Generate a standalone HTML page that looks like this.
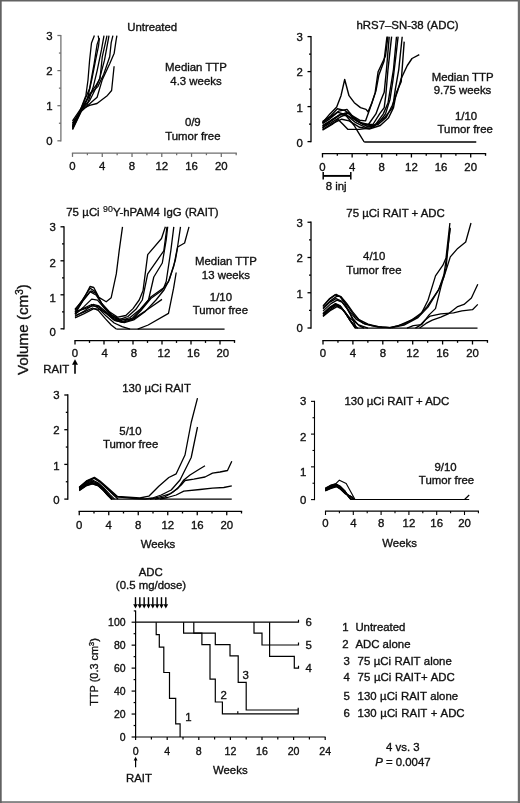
<!DOCTYPE html>
<html><head><meta charset="utf-8"><title>Figure</title>
<style>
html,body{margin:0;padding:0;background:#fff;}
svg{display:block;}
text{font-family:"Liberation Sans",sans-serif;fill:#111;stroke:#111;stroke-width:0.35px;}
</style></head><body>
<svg width="520" height="803" viewBox="0 0 520 803">
<rect x="0" y="0" width="520" height="803" fill="#fff"/>
<rect x="0" y="0" width="520" height="1.5" fill="#626262"/>
<rect x="0" y="801.1" width="520" height="1.9" fill="#868686"/>
<rect x="0" y="0" width="1.7" height="803" fill="#626262"/>
<rect x="517.8" y="0" width="2.2" height="803" fill="#6c6c6c"/>
<line x1="60.90" y1="34.88" x2="60.90" y2="141.43" stroke="#6e6e6e" stroke-width="1.25"/>
<line x1="57.40" y1="140.80" x2="60.90" y2="140.80" stroke="#6e6e6e" stroke-width="1.25"/>
<text x="52.70" y="144.80" font-size="11.4" text-anchor="end" >0</text>
<line x1="58.90" y1="123.25" x2="60.90" y2="123.25" stroke="#6e6e6e" stroke-width="1.25"/>
<line x1="57.40" y1="105.70" x2="60.90" y2="105.70" stroke="#6e6e6e" stroke-width="1.25"/>
<text x="52.70" y="110.30" font-size="11.4" text-anchor="end" >1</text>
<line x1="58.90" y1="88.15" x2="60.90" y2="88.15" stroke="#6e6e6e" stroke-width="1.25"/>
<line x1="57.40" y1="70.60" x2="60.90" y2="70.60" stroke="#6e6e6e" stroke-width="1.25"/>
<text x="52.70" y="74.90" font-size="11.4" text-anchor="end" >2</text>
<line x1="58.90" y1="53.05" x2="60.90" y2="53.05" stroke="#6e6e6e" stroke-width="1.25"/>
<line x1="57.40" y1="35.50" x2="60.90" y2="35.50" stroke="#6e6e6e" stroke-width="1.25"/>
<text x="52.70" y="39.60" font-size="11.4" text-anchor="end" >3</text>
<line x1="71.88" y1="153.00" x2="236.81" y2="153.00" stroke="#6e6e6e" stroke-width="1.25"/>
<line x1="72.50" y1="153.00" x2="72.50" y2="156.90" stroke="#6e6e6e" stroke-width="1.25"/>
<text x="72.50" y="169.60" font-size="11.4" text-anchor="middle" >0</text>
<line x1="87.38" y1="153.00" x2="87.38" y2="155.20" stroke="#6e6e6e" stroke-width="1.25"/>
<line x1="102.26" y1="153.00" x2="102.26" y2="156.90" stroke="#6e6e6e" stroke-width="1.25"/>
<text x="102.26" y="169.60" font-size="11.4" text-anchor="middle" >4</text>
<line x1="117.14" y1="153.00" x2="117.14" y2="155.20" stroke="#6e6e6e" stroke-width="1.25"/>
<line x1="132.02" y1="153.00" x2="132.02" y2="156.90" stroke="#6e6e6e" stroke-width="1.25"/>
<text x="132.02" y="169.60" font-size="11.4" text-anchor="middle" >8</text>
<line x1="146.90" y1="153.00" x2="146.90" y2="155.20" stroke="#6e6e6e" stroke-width="1.25"/>
<line x1="161.78" y1="153.00" x2="161.78" y2="156.90" stroke="#6e6e6e" stroke-width="1.25"/>
<text x="161.78" y="169.60" font-size="11.4" text-anchor="middle" >12</text>
<line x1="176.66" y1="153.00" x2="176.66" y2="155.20" stroke="#6e6e6e" stroke-width="1.25"/>
<line x1="191.54" y1="153.00" x2="191.54" y2="156.90" stroke="#6e6e6e" stroke-width="1.25"/>
<text x="191.54" y="169.60" font-size="11.4" text-anchor="middle" >16</text>
<line x1="206.42" y1="153.00" x2="206.42" y2="155.20" stroke="#6e6e6e" stroke-width="1.25"/>
<line x1="221.30" y1="153.00" x2="221.30" y2="156.90" stroke="#6e6e6e" stroke-width="1.25"/>
<text x="221.30" y="169.60" font-size="11.4" text-anchor="middle" >20</text>
<line x1="236.18" y1="153.00" x2="236.18" y2="155.20" stroke="#6e6e6e" stroke-width="1.25"/>
<polyline points="72.5,125.4 79.9,111.3 85.9,95.4 88.0,80.0 89.6,60.2 91.5,43.0 94.4,35.6" fill="none" stroke="#000" stroke-width="1.3" stroke-linejoin="round" stroke-linecap="butt"/>
<polyline points="72.5,122.9 79.2,113.0 83.7,102.5 89.6,88.4 94.1,63.8 97.1,44.4 98.9,39.1 98.1,35.6" fill="none" stroke="#000" stroke-width="1.3" stroke-linejoin="round" stroke-linecap="butt"/>
<polyline points="72.5,120.8 81.4,107.8 87.4,99.0 91.8,79.6 95.6,60.2 98.5,46.2 99.4,38.1" fill="none" stroke="#000" stroke-width="1.3" stroke-linejoin="round" stroke-linecap="butt"/>
<polyline points="72.5,127.1 81.4,109.5 87.4,104.2 93.3,86.6 97.1,70.8 101.5,49.7 104.0,35.6" fill="none" stroke="#000" stroke-width="1.3" stroke-linejoin="round" stroke-linecap="butt"/>
<polyline points="72.5,128.9 81.4,110.2 88.9,95.4 96.3,84.9 100.0,78.5 102.3,56.7 107.0,35.6" fill="none" stroke="#000" stroke-width="1.3" stroke-linejoin="round" stroke-linecap="butt"/>
<polyline points="72.5,126.4 82.2,107.8 89.6,100.7 94.8,90.2 99.3,79.6 104.5,60.2 109.0,35.6" fill="none" stroke="#000" stroke-width="1.3" stroke-linejoin="round" stroke-linecap="butt"/>
<polyline points="72.5,123.6 82.2,109.5 90.4,93.7 97.8,86.6 103.7,74.3 109.7,56.7 111.2,42.6 112.9,35.6" fill="none" stroke="#000" stroke-width="1.3" stroke-linejoin="round" stroke-linecap="butt"/>
<polyline points="72.5,129.6 81.4,111.3 91.1,102.5 97.1,97.2 102.3,79.6 109.7,63.8 114.2,53.2 116.0,40.9 116.9,35.6" fill="none" stroke="#000" stroke-width="1.3" stroke-linejoin="round" stroke-linecap="butt"/>
<polyline points="72.5,127.8 81.1,109.5 89.6,105.3 97.0,103.5 107.5,95.4 111.6,90.5 114.1,66.2" fill="none" stroke="#000" stroke-width="1.3" stroke-linejoin="round" stroke-linecap="butt"/>
<text x="152.20" y="30.80" font-size="11.4" text-anchor="middle" >Untreated</text>
<text x="196.00" y="70.80" font-size="11.4" text-anchor="middle" >Median TTP</text>
<text x="196.00" y="84.50" font-size="11.4" text-anchor="middle" >4.3 weeks</text>
<text x="192.80" y="125.80" font-size="11.4" text-anchor="middle" >0/9</text>
<text x="192.90" y="139.50" font-size="11.4" text-anchor="middle" >Tumor free</text>
<line x1="311.00" y1="35.95" x2="311.00" y2="142.25" stroke="#000" stroke-width="1.3"/>
<line x1="307.50" y1="141.60" x2="311.00" y2="141.60" stroke="#000" stroke-width="1.3"/>
<text x="302.80" y="146.60" font-size="11.4" text-anchor="end" >0</text>
<line x1="309.00" y1="124.10" x2="311.00" y2="124.10" stroke="#000" stroke-width="1.3"/>
<line x1="307.50" y1="106.60" x2="311.00" y2="106.60" stroke="#000" stroke-width="1.3"/>
<text x="302.80" y="111.90" font-size="11.4" text-anchor="end" >1</text>
<line x1="309.00" y1="89.10" x2="311.00" y2="89.10" stroke="#000" stroke-width="1.3"/>
<line x1="307.50" y1="71.60" x2="311.00" y2="71.60" stroke="#000" stroke-width="1.3"/>
<text x="302.80" y="76.30" font-size="11.4" text-anchor="end" >2</text>
<line x1="309.00" y1="54.10" x2="311.00" y2="54.10" stroke="#000" stroke-width="1.3"/>
<line x1="307.50" y1="36.60" x2="311.00" y2="36.60" stroke="#000" stroke-width="1.3"/>
<text x="302.80" y="40.70" font-size="11.4" text-anchor="end" >3</text>
<line x1="321.85" y1="153.60" x2="486.17" y2="153.60" stroke="#000" stroke-width="1.3"/>
<line x1="322.50" y1="153.60" x2="322.50" y2="157.50" stroke="#000" stroke-width="1.3"/>
<text x="322.50" y="170.50" font-size="11.4" text-anchor="middle" >0</text>
<line x1="337.32" y1="153.60" x2="337.32" y2="155.80" stroke="#000" stroke-width="1.3"/>
<line x1="352.14" y1="153.60" x2="352.14" y2="157.50" stroke="#000" stroke-width="1.3"/>
<text x="352.14" y="170.50" font-size="11.4" text-anchor="middle" >4</text>
<line x1="366.96" y1="153.60" x2="366.96" y2="155.80" stroke="#000" stroke-width="1.3"/>
<line x1="381.78" y1="153.60" x2="381.78" y2="157.50" stroke="#000" stroke-width="1.3"/>
<text x="381.78" y="170.50" font-size="11.4" text-anchor="middle" >8</text>
<line x1="396.60" y1="153.60" x2="396.60" y2="155.80" stroke="#000" stroke-width="1.3"/>
<line x1="411.42" y1="153.60" x2="411.42" y2="157.50" stroke="#000" stroke-width="1.3"/>
<text x="411.42" y="170.50" font-size="11.4" text-anchor="middle" >12</text>
<line x1="426.24" y1="153.60" x2="426.24" y2="155.80" stroke="#000" stroke-width="1.3"/>
<line x1="441.06" y1="153.60" x2="441.06" y2="157.50" stroke="#000" stroke-width="1.3"/>
<text x="441.06" y="170.50" font-size="11.4" text-anchor="middle" >16</text>
<line x1="455.88" y1="153.60" x2="455.88" y2="155.80" stroke="#000" stroke-width="1.3"/>
<line x1="470.70" y1="153.60" x2="470.70" y2="157.50" stroke="#000" stroke-width="1.3"/>
<text x="470.70" y="170.50" font-size="11.4" text-anchor="middle" >20</text>
<line x1="485.52" y1="153.60" x2="485.52" y2="155.80" stroke="#000" stroke-width="1.3"/>
<polyline points="322.5,121.6 329.9,116.7 337.3,108.7 344.7,110.4 352.1,115.7 359.6,120.2 365.5,120.9 369.9,108.7 375.1,92.9 378.1,71.8 385.5,56.0 387.9,36.7" fill="none" stroke="#000" stroke-width="1.4000000000000001" stroke-linejoin="round" stroke-linecap="butt"/>
<polyline points="322.5,123.7 329.9,118.8 338.8,111.1 347.0,109.4 353.6,117.4 361.0,122.7 368.4,124.5 375.9,113.9 381.0,99.9 384.2,92.2 386.5,69.3 389.2,36.7" fill="none" stroke="#000" stroke-width="1.4000000000000001" stroke-linejoin="round" stroke-linecap="butt"/>
<polyline points="322.5,125.5 331.4,120.2 341.0,113.9 348.4,113.2 355.8,120.2 363.3,124.5 372.9,124.5 379.6,113.9 384.2,107.6 385.8,95.3 388.0,69.3 391.6,36.7" fill="none" stroke="#000" stroke-width="1.4000000000000001" stroke-linejoin="round" stroke-linecap="butt"/>
<polyline points="322.5,127.3 331.4,122.7 341.0,116.7 346.2,114.6 355.8,122.7 365.5,127.3 374.4,126.2 383.3,113.9 388.0,103.0 393.5,69.3 396.5,36.7" fill="none" stroke="#000" stroke-width="1.4000000000000001" stroke-linejoin="round" stroke-linecap="butt"/>
<polyline points="322.5,122.7 329.9,117.4 337.3,112.2 343.2,113.9 352.1,118.1 363.3,124.5 374.4,125.2 384.7,117.4 392.7,107.6 395.3,89.3 398.8,69.3 402.2,36.7" fill="none" stroke="#000" stroke-width="1.4000000000000001" stroke-linejoin="round" stroke-linecap="butt"/>
<polyline points="322.5,129.4 332.1,123.7 341.8,119.2 349.2,120.9 359.6,127.3 369.2,129.0 380.3,125.5 388.4,118.1 393.5,107.6 396.5,92.2 401.2,81.6 404.2,41.6" fill="none" stroke="#000" stroke-width="1.4000000000000001" stroke-linejoin="round" stroke-linecap="butt"/>
<polyline points="322.5,126.2 331.4,120.9 340.3,114.6 347.7,112.5 356.6,120.9 367.0,126.2 378.1,124.5 386.2,117.4 392.2,105.5 397.3,92.2 401.2,78.5 407.3,65.5 412.0,58.5 419.3,54.6" fill="none" stroke="#000" stroke-width="1.4000000000000001" stroke-linejoin="round" stroke-linecap="butt"/>
<polyline points="322.5,122.7 329.9,113.9 336.7,106.9 341.0,95.7 344.7,79.5 349.0,95.7 354.3,102.7 360.5,107.6 366.0,109.4 368.0,111.8 371.8,103.4 375.9,91.1 378.8,75.3 384.0,61.3 385.9,45.5 387.0,36.7" fill="none" stroke="#000" stroke-width="1.4000000000000001" stroke-linejoin="round" stroke-linecap="butt"/>
<polyline points="322.5,128.0 331.4,120.2 340.3,114.6 346.2,115.7 354.2,125.5 358.6,132.9 364.2,142.0" fill="none" stroke="#000" stroke-width="1.4000000000000001" stroke-linejoin="round" stroke-linecap="butt"/>
<polyline points="322.5,130.1 332.1,124.5 338.1,119.5 343.2,124.5 348.0,129.4 359.3,129.4 370.5,128.0 378.8,122.7 385.5,113.9 389.9,99.9 392.9,80.6 395.9,56.0 398.1,36.7" fill="none" stroke="#000" stroke-width="1.4000000000000001" stroke-linejoin="round" stroke-linecap="butt"/>
<line x1="364.22" y1="142.00" x2="476.26" y2="142.00" stroke="#000" stroke-width="1.4000000000000001"/>
<text x="407.50" y="29.30" font-size="11.4" text-anchor="middle" >hRS7–SN-38 (ADC)</text>
<text x="462.60" y="80.80" font-size="11.4" text-anchor="middle" >Median TTP</text>
<text x="462.50" y="94.30" font-size="11.4" text-anchor="middle" >9.75 weeks</text>
<text x="466.00" y="119.50" font-size="11.4" text-anchor="middle" >1/10</text>
<text x="465.20" y="133.30" font-size="11.4" text-anchor="middle" >Tumor free</text>
<line x1="323.20" y1="175.90" x2="350.80" y2="175.90" stroke="#000" stroke-width="1.9"/>
<line x1="323.20" y1="171.90" x2="323.20" y2="179.60" stroke="#000" stroke-width="1.5"/>
<line x1="350.80" y1="171.90" x2="350.80" y2="179.60" stroke="#000" stroke-width="1.5"/>
<text x="336.20" y="189.80" font-size="11.4" text-anchor="middle" >8 inj</text>
<line x1="64.00" y1="226.15" x2="64.00" y2="329.45" stroke="#000" stroke-width="1.3"/>
<line x1="60.50" y1="328.80" x2="64.00" y2="328.80" stroke="#000" stroke-width="1.3"/>
<text x="55.80" y="336.10" font-size="11.4" text-anchor="end" >0</text>
<line x1="62.00" y1="311.80" x2="64.00" y2="311.80" stroke="#000" stroke-width="1.3"/>
<line x1="60.50" y1="294.80" x2="64.00" y2="294.80" stroke="#000" stroke-width="1.3"/>
<text x="55.80" y="302.20" font-size="11.4" text-anchor="end" >1</text>
<line x1="62.00" y1="277.80" x2="64.00" y2="277.80" stroke="#000" stroke-width="1.3"/>
<line x1="60.50" y1="260.80" x2="64.00" y2="260.80" stroke="#000" stroke-width="1.3"/>
<text x="55.80" y="266.50" font-size="11.4" text-anchor="end" >2</text>
<line x1="62.00" y1="243.80" x2="64.00" y2="243.80" stroke="#000" stroke-width="1.3"/>
<line x1="60.50" y1="226.80" x2="64.00" y2="226.80" stroke="#000" stroke-width="1.3"/>
<text x="55.80" y="230.70" font-size="11.4" text-anchor="end" >3</text>
<line x1="74.35" y1="340.70" x2="235.15" y2="340.70" stroke="#000" stroke-width="1.3"/>
<line x1="75.00" y1="340.70" x2="75.00" y2="344.60" stroke="#000" stroke-width="1.3"/>
<text x="74.90" y="356.80" font-size="11.4" text-anchor="middle" >0</text>
<line x1="89.50" y1="340.70" x2="89.50" y2="342.90" stroke="#000" stroke-width="1.3"/>
<line x1="104.00" y1="340.70" x2="104.00" y2="344.60" stroke="#000" stroke-width="1.3"/>
<text x="104.70" y="356.80" font-size="11.4" text-anchor="middle" >4</text>
<line x1="118.50" y1="340.70" x2="118.50" y2="342.90" stroke="#000" stroke-width="1.3"/>
<line x1="133.00" y1="340.70" x2="133.00" y2="344.60" stroke="#000" stroke-width="1.3"/>
<text x="134.00" y="356.80" font-size="11.4" text-anchor="middle" >8</text>
<line x1="147.50" y1="340.70" x2="147.50" y2="342.90" stroke="#000" stroke-width="1.3"/>
<line x1="162.00" y1="340.70" x2="162.00" y2="344.60" stroke="#000" stroke-width="1.3"/>
<text x="163.90" y="356.80" font-size="11.4" text-anchor="middle" >12</text>
<line x1="176.50" y1="340.70" x2="176.50" y2="342.90" stroke="#000" stroke-width="1.3"/>
<line x1="191.00" y1="340.70" x2="191.00" y2="344.60" stroke="#000" stroke-width="1.3"/>
<text x="193.40" y="356.80" font-size="11.4" text-anchor="middle" >16</text>
<line x1="205.50" y1="340.70" x2="205.50" y2="342.90" stroke="#000" stroke-width="1.3"/>
<line x1="220.00" y1="340.70" x2="220.00" y2="344.60" stroke="#000" stroke-width="1.3"/>
<text x="222.80" y="356.80" font-size="11.4" text-anchor="middle" >20</text>
<line x1="234.50" y1="340.70" x2="234.50" y2="342.90" stroke="#000" stroke-width="1.3"/>
<polyline points="75.0,313.8 82.2,301.8 90.0,286.5 93.8,287.5 98.9,297.4 106.2,301.8 111.2,297.7 116.3,273.9 119.2,250.7 122.5,226.8" fill="none" stroke="#000" stroke-width="1.3" stroke-linejoin="round" stroke-linecap="butt"/>
<polyline points="75.0,315.5 83.7,312.1 92.4,308.0 98.2,310.3 105.5,318.9 111.2,325.0 116.3,329.1" fill="none" stroke="#000" stroke-width="1.3" stroke-linejoin="round" stroke-linecap="butt"/>
<polyline points="75.0,310.3 82.2,300.1 90.2,288.2 95.3,291.6 101.8,303.5 109.8,312.1 117.8,317.2 125.8,315.5 133.0,308.6 139.2,300.0 143.0,290.8 147.7,254.6 161.5,238.5 165.4,226.8" fill="none" stroke="#000" stroke-width="1.3" stroke-linejoin="round" stroke-linecap="butt"/>
<polyline points="75.0,312.1 82.2,301.8 91.0,290.9 96.0,293.3 102.5,305.2 111.2,314.8 119.2,319.6 127.9,316.5 135.9,309.3 142.3,300.0 147.7,273.8 163.8,250.8 167.0,226.8" fill="none" stroke="#000" stroke-width="1.3" stroke-linejoin="round" stroke-linecap="butt"/>
<polyline points="75.0,314.4 83.7,306.9 91.7,299.1 97.5,300.1 104.7,308.6 112.7,317.2 120.7,320.6 130.1,317.5 140.2,309.3 148.5,300.0 153.8,277.0 162.3,263.0 166.2,240.0 167.7,226.8" fill="none" stroke="#000" stroke-width="1.3" stroke-linejoin="round" stroke-linecap="butt"/>
<polyline points="75.0,316.5 83.7,311.4 93.1,304.5 98.9,305.9 106.2,312.1 114.2,318.9 122.1,321.6 132.3,318.2 141.7,308.6 150.8,297.0 163.8,287.7 166.2,281.5 170.8,250.8 173.8,226.8" fill="none" stroke="#000" stroke-width="1.3" stroke-linejoin="round" stroke-linecap="butt"/>
<polyline points="75.0,311.4 83.0,309.3 92.4,305.9 98.2,306.6 105.5,312.7 113.4,319.6 122.1,322.3 132.3,319.6 141.7,309.7 150.8,298.5 161.5,290.8 168.5,281.5 173.8,266.0 177.7,246.0 180.5,226.8" fill="none" stroke="#000" stroke-width="1.3" stroke-linejoin="round" stroke-linecap="butt"/>
<polyline points="75.0,317.8 83.7,313.8 93.8,308.6 99.7,309.3 106.9,313.8 114.9,320.6 124.3,322.6 133.7,319.9 145.3,311.4 156.0,300.0 164.0,290.0 169.2,280.0 175.4,260.0 177.7,247.0 184.6,243.0 189.0,226.8" fill="none" stroke="#000" stroke-width="1.3" stroke-linejoin="round" stroke-linecap="butt"/>
<polyline points="75.0,313.4 83.0,308.6 91.7,304.5 98.2,308.0 106.2,316.1 114.2,323.0 122.1,326.7 130.1,329.1" fill="none" stroke="#000" stroke-width="1.3" stroke-linejoin="round" stroke-linecap="butt"/>
<polyline points="137.7,329.1 148.2,325.0 168.5,313.4 173.6,288.2 176.2,272.5" fill="none" stroke="#000" stroke-width="1.3" stroke-linejoin="round" stroke-linecap="butt"/>
<polyline points="75.0,309.3 83.0,300.1 90.0,291.6 96.0,295.0 103.3,305.9 111.2,314.8 119.2,318.9 127.2,319.6 133.5,318.9 148.2,309.0 162.0,299.4" fill="none" stroke="#000" stroke-width="1.3" stroke-linejoin="round" stroke-linecap="butt"/>
<line x1="116.33" y1="329.10" x2="224.57" y2="329.10" stroke="#000" stroke-width="1.3"/>
<text x="66.2" y="215.8" font-size="11.4" style="word-spacing:0.3px">75 µCi <tspan font-size="8.8" dy="-4.3" style="stroke-width:0.2px">90</tspan><tspan dy="4.3">Y-hPAM4 IgG (RAIT)</tspan></text>
<text x="225.90" y="265.00" font-size="11.4" text-anchor="middle" >Median TTP</text>
<text x="225.90" y="278.80" font-size="11.4" text-anchor="middle" >13 weeks</text>
<text x="220.90" y="300.50" font-size="11.4" text-anchor="middle" >1/10</text>
<text x="220.40" y="314.30" font-size="11.4" text-anchor="middle" >Tumor free</text>
<text x="43.20" y="372.60" font-size="11.4" text-anchor="start" >RAIT</text>
<line x1="75.00" y1="364.30" x2="75.00" y2="373.80" stroke="#000" stroke-width="1.6"/>
<polygon points="75.00,359.20 72.00,364.80 78.00,364.80" fill="#000"/>
<text transform="translate(28.4,375) rotate(-90)" font-size="15.2">Volume (cm<tspan font-size="10" dy="-5">3</tspan><tspan dy="5">)</tspan></text>
<line x1="311.00" y1="221.60" x2="311.00" y2="328.65" stroke="#000" stroke-width="1.3"/>
<line x1="307.50" y1="328.00" x2="311.00" y2="328.00" stroke="#000" stroke-width="1.3"/>
<text x="302.80" y="332.10" font-size="11.4" text-anchor="end" >0</text>
<line x1="309.00" y1="310.38" x2="311.00" y2="310.38" stroke="#000" stroke-width="1.3"/>
<line x1="307.50" y1="292.75" x2="311.00" y2="292.75" stroke="#000" stroke-width="1.3"/>
<text x="302.80" y="297.60" font-size="11.4" text-anchor="end" >1</text>
<line x1="309.00" y1="275.12" x2="311.00" y2="275.12" stroke="#000" stroke-width="1.3"/>
<line x1="307.50" y1="257.50" x2="311.00" y2="257.50" stroke="#000" stroke-width="1.3"/>
<text x="302.80" y="262.20" font-size="11.4" text-anchor="end" >2</text>
<line x1="309.00" y1="239.88" x2="311.00" y2="239.88" stroke="#000" stroke-width="1.3"/>
<line x1="307.50" y1="222.25" x2="311.00" y2="222.25" stroke="#000" stroke-width="1.3"/>
<text x="302.80" y="226.60" font-size="11.4" text-anchor="end" >3</text>
<line x1="322.35" y1="340.60" x2="488.10" y2="340.60" stroke="#000" stroke-width="1.3"/>
<line x1="323.00" y1="340.60" x2="323.00" y2="344.50" stroke="#000" stroke-width="1.3"/>
<text x="323.00" y="357.00" font-size="11.4" text-anchor="middle" >0</text>
<line x1="337.95" y1="340.60" x2="337.95" y2="342.80" stroke="#000" stroke-width="1.3"/>
<line x1="352.90" y1="340.60" x2="352.90" y2="344.50" stroke="#000" stroke-width="1.3"/>
<text x="352.90" y="357.00" font-size="11.4" text-anchor="middle" >4</text>
<line x1="367.85" y1="340.60" x2="367.85" y2="342.80" stroke="#000" stroke-width="1.3"/>
<line x1="382.80" y1="340.60" x2="382.80" y2="344.50" stroke="#000" stroke-width="1.3"/>
<text x="382.80" y="357.00" font-size="11.4" text-anchor="middle" >8</text>
<line x1="397.75" y1="340.60" x2="397.75" y2="342.80" stroke="#000" stroke-width="1.3"/>
<line x1="412.70" y1="340.60" x2="412.70" y2="344.50" stroke="#000" stroke-width="1.3"/>
<text x="412.70" y="357.00" font-size="11.4" text-anchor="middle" >12</text>
<line x1="427.65" y1="340.60" x2="427.65" y2="342.80" stroke="#000" stroke-width="1.3"/>
<line x1="442.60" y1="340.60" x2="442.60" y2="344.50" stroke="#000" stroke-width="1.3"/>
<text x="442.60" y="357.00" font-size="11.4" text-anchor="middle" >16</text>
<line x1="457.55" y1="340.60" x2="457.55" y2="342.80" stroke="#000" stroke-width="1.3"/>
<line x1="472.50" y1="340.60" x2="472.50" y2="344.50" stroke="#000" stroke-width="1.3"/>
<text x="472.50" y="357.00" font-size="11.4" text-anchor="middle" >20</text>
<line x1="487.45" y1="340.60" x2="487.45" y2="342.80" stroke="#000" stroke-width="1.3"/>
<polyline points="323.0,306.6 330.0,298.6 336.2,294.3 341.0,297.1 347.0,305.1 355.0,316.6 363.0,323.1 372.0,325.6 382.0,327.1 390.0,327.6 398.5,325.6 411.2,320.2 421.7,312.9 428.0,300.2 435.5,275.9 442.9,265.2 446.0,257.9 449.9,223.0" fill="none" stroke="#000" stroke-width="1.3" stroke-linejoin="round" stroke-linecap="butt"/>
<polyline points="323.0,308.1 330.0,301.1 337.0,296.1 340.8,296.4 346.5,303.1 352.5,311.6 359.0,319.6 368.0,324.1 378.0,326.6 390.0,327.6 402.7,324.6 417.5,317.1 427.0,306.6 438.7,289.6 443.9,274.8 447.1,253.6 450.3,228.2" fill="none" stroke="#000" stroke-width="1.3" stroke-linejoin="round" stroke-linecap="butt"/>
<polyline points="323.0,313.6 330.0,307.1 335.5,303.6 340.0,305.6 345.0,312.1 350.0,320.1 355.5,326.6 358.0,328.1" fill="none" stroke="#000" stroke-width="1.3" stroke-linejoin="round" stroke-linecap="butt"/>
<polyline points="407.0,328.1 413.3,325.6 421.7,324.6 429.1,314.9 435.5,308.6 440.8,287.4 446.0,268.4 450.0,227.6" fill="none" stroke="#000" stroke-width="1.3" stroke-linejoin="round" stroke-linecap="butt"/>
<polyline points="323.0,311.1 331.0,303.6 337.0,300.1 342.0,302.1 348.0,309.6 356.0,319.1 365.0,324.1 378.0,327.1 392.0,327.6 404.0,325.1 418.0,317.6 428.0,307.1 438.7,289.6 444.0,276.9 450.3,256.9 457.7,248.4 465.7,242.0 471.0,223.0" fill="none" stroke="#000" stroke-width="1.3" stroke-linejoin="round" stroke-linecap="butt"/>
<polyline points="323.0,314.6 330.0,308.1 335.8,304.6 340.5,306.6 345.5,313.1 350.5,321.1 355.5,328.1" fill="none" stroke="#000" stroke-width="1.3" stroke-linejoin="round" stroke-linecap="butt"/>
<polyline points="419.6,328.1 426.0,323.4 432.3,320.2 440.8,317.1 448.2,313.9 457.7,306.6 464.0,304.4 471.4,298.1 477.8,284.3" fill="none" stroke="#000" stroke-width="1.3" stroke-linejoin="round" stroke-linecap="butt"/>
<polyline points="323.0,316.1 330.0,309.6 336.0,305.6 341.0,307.6 346.0,314.1 351.0,321.6 356.0,328.1" fill="none" stroke="#000" stroke-width="1.3" stroke-linejoin="round" stroke-linecap="butt"/>
<polyline points="415.4,328.1 419.6,325.6 424.9,320.2 430.2,316.1 440.8,313.9 453.5,312.9 461.9,310.8 472.5,309.7 477.8,304.4" fill="none" stroke="#000" stroke-width="1.3" stroke-linejoin="round" stroke-linecap="butt"/>
<polyline points="323.0,305.9 329.0,299.1 335.0,294.9 340.0,296.6 345.0,303.6 350.0,313.6 354.0,322.6 356.5,328.1" fill="none" stroke="#000" stroke-width="1.3" stroke-linejoin="round" stroke-linecap="butt"/>
<polyline points="323.0,309.1 330.0,302.1 336.0,298.6 341.5,301.1 347.0,308.6 353.0,318.6 359.0,325.6 364.0,328.1" fill="none" stroke="#000" stroke-width="1.3" stroke-linejoin="round" stroke-linecap="butt"/>
<polyline points="323.0,314.1 330.0,307.6 335.6,304.1 340.3,306.1 345.3,312.6 350.3,320.6 355.2,328.1" fill="none" stroke="#000" stroke-width="1.3" stroke-linejoin="round" stroke-linecap="butt"/>
<polyline points="323.0,316.6 331.0,310.1 337.0,306.6 343.0,309.6 350.0,318.1 358.0,324.6 368.0,328.1" fill="none" stroke="#000" stroke-width="1.3" stroke-linejoin="round" stroke-linecap="butt"/>
<line x1="355.20" y1="328.05" x2="477.50" y2="328.05" stroke="#000" stroke-width="1.3"/>
<text x="395.60" y="217.00" font-size="11.4" text-anchor="middle" >75 µCi RAIT + ADC</text>
<text x="374.20" y="260.00" font-size="11.4" text-anchor="middle" >4/10</text>
<text x="373.90" y="273.80" font-size="11.4" text-anchor="middle" >Tumor free</text>
<line x1="67.80" y1="394.35" x2="67.80" y2="499.75" stroke="#000" stroke-width="1.3"/>
<line x1="64.30" y1="499.10" x2="67.80" y2="499.10" stroke="#000" stroke-width="1.3"/>
<text x="59.60" y="504.00" font-size="11.4" text-anchor="end" >0</text>
<line x1="65.80" y1="481.75" x2="67.80" y2="481.75" stroke="#000" stroke-width="1.3"/>
<line x1="64.30" y1="464.40" x2="67.80" y2="464.40" stroke="#000" stroke-width="1.3"/>
<text x="59.60" y="469.80" font-size="11.4" text-anchor="end" >1</text>
<line x1="65.80" y1="447.05" x2="67.80" y2="447.05" stroke="#000" stroke-width="1.3"/>
<line x1="64.30" y1="429.70" x2="67.80" y2="429.70" stroke="#000" stroke-width="1.3"/>
<text x="59.60" y="434.40" font-size="11.4" text-anchor="end" >2</text>
<line x1="65.80" y1="412.35" x2="67.80" y2="412.35" stroke="#000" stroke-width="1.3"/>
<line x1="64.30" y1="395.00" x2="67.80" y2="395.00" stroke="#000" stroke-width="1.3"/>
<text x="59.60" y="398.80" font-size="11.4" text-anchor="end" >3</text>
<line x1="78.60" y1="511.30" x2="242.15" y2="511.30" stroke="#000" stroke-width="1.3"/>
<line x1="79.25" y1="511.30" x2="79.25" y2="515.20" stroke="#000" stroke-width="1.3"/>
<text x="79.25" y="528.60" font-size="11.4" text-anchor="middle" >0</text>
<line x1="94.00" y1="511.30" x2="94.00" y2="513.50" stroke="#000" stroke-width="1.3"/>
<line x1="108.75" y1="511.30" x2="108.75" y2="515.20" stroke="#000" stroke-width="1.3"/>
<text x="108.75" y="528.60" font-size="11.4" text-anchor="middle" >4</text>
<line x1="123.50" y1="511.30" x2="123.50" y2="513.50" stroke="#000" stroke-width="1.3"/>
<line x1="138.25" y1="511.30" x2="138.25" y2="515.20" stroke="#000" stroke-width="1.3"/>
<text x="138.25" y="528.60" font-size="11.4" text-anchor="middle" >8</text>
<line x1="153.00" y1="511.30" x2="153.00" y2="513.50" stroke="#000" stroke-width="1.3"/>
<line x1="167.75" y1="511.30" x2="167.75" y2="515.20" stroke="#000" stroke-width="1.3"/>
<text x="167.75" y="528.60" font-size="11.4" text-anchor="middle" >12</text>
<line x1="182.50" y1="511.30" x2="182.50" y2="513.50" stroke="#000" stroke-width="1.3"/>
<line x1="197.25" y1="511.30" x2="197.25" y2="515.20" stroke="#000" stroke-width="1.3"/>
<text x="197.25" y="528.60" font-size="11.4" text-anchor="middle" >16</text>
<line x1="212.00" y1="511.30" x2="212.00" y2="513.50" stroke="#000" stroke-width="1.3"/>
<line x1="226.75" y1="511.30" x2="226.75" y2="515.20" stroke="#000" stroke-width="1.3"/>
<text x="226.75" y="528.60" font-size="11.4" text-anchor="middle" >20</text>
<line x1="241.50" y1="511.30" x2="241.50" y2="513.50" stroke="#000" stroke-width="1.3"/>
<polyline points="79.2,487.2 87.0,480.5 94.4,477.3 100.0,481.0 108.0,488.0 117.5,496.5 125.0,497.0 139.8,498.0 148.8,496.2 158.8,486.2 168.8,477.5 176.2,473.8 185.0,455.0 191.2,422.5 197.5,398.2" fill="none" stroke="#000" stroke-width="1.3" stroke-linejoin="round" stroke-linecap="butt"/>
<polyline points="79.2,488.0 87.0,481.5 94.0,478.3 100.0,482.0 108.0,489.0 116.5,496.8 125.0,497.6 135.0,498.5 145.0,499.0 152.5,498.0 161.2,495.0 171.2,490.0 180.0,480.0 187.5,465.0 191.2,457.5 197.5,427.0" fill="none" stroke="#000" stroke-width="1.3" stroke-linejoin="round" stroke-linecap="butt"/>
<polyline points="79.2,488.5 86.0,484.0 91.5,482.3 98.0,484.0 103.0,488.5 107.0,493.5 111.0,498.5 111.5,499.1" fill="none" stroke="#000" stroke-width="1.3" stroke-linejoin="round" stroke-linecap="butt"/>
<polyline points="150.0,499.1 157.5,497.5 170.0,493.8 177.5,488.8 183.8,480.0 190.0,475.0 198.8,469.5 205.0,465.8" fill="none" stroke="#000" stroke-width="1.3" stroke-linejoin="round" stroke-linecap="butt"/>
<polyline points="79.2,489.2 86.0,484.6 92.0,482.8 98.0,484.6 103.0,489.0 107.0,494.0 111.0,498.6 112.0,499.1" fill="none" stroke="#000" stroke-width="1.3" stroke-linejoin="round" stroke-linecap="butt"/>
<polyline points="155.0,499.1 165.0,496.8 172.5,492.5 181.2,485.0 185.0,480.5 193.8,479.2 205.0,477.0 212.5,473.2 220.0,472.0 227.5,470.5 231.8,461.2" fill="none" stroke="#000" stroke-width="1.3" stroke-linejoin="round" stroke-linecap="butt"/>
<polyline points="79.2,489.8 86.0,485.2 92.0,483.2 98.0,485.0 103.0,489.6 107.0,494.5 111.3,498.8 112.0,499.1" fill="none" stroke="#000" stroke-width="1.3" stroke-linejoin="round" stroke-linecap="butt"/>
<polyline points="160.0,499.1 167.5,497.5 176.2,495.0 183.8,491.2 200.0,489.5 212.5,488.2 223.8,487.5 231.8,485.8" fill="none" stroke="#000" stroke-width="1.3" stroke-linejoin="round" stroke-linecap="butt"/>
<polyline points="79.2,487.5 87.0,481.0 94.2,478.0 100.0,482.0 108.0,489.5 114.0,495.5 118.0,499.1" fill="none" stroke="#000" stroke-width="1.3" stroke-linejoin="round" stroke-linecap="butt"/>
<polyline points="79.2,488.2 86.0,482.6 92.5,480.0 98.0,482.8 104.0,488.2 110.0,494.6 114.5,499.1" fill="none" stroke="#000" stroke-width="1.3" stroke-linejoin="round" stroke-linecap="butt"/>
<polyline points="79.2,488.6 86.0,483.4 92.3,481.2 98.0,483.6 103.5,488.6 108.5,494.6 112.5,499.1" fill="none" stroke="#000" stroke-width="1.3" stroke-linejoin="round" stroke-linecap="butt"/>
<polyline points="79.2,490.3 86.0,485.6 92.0,483.6 98.0,485.6 103.5,490.5 108.0,495.5 111.8,499.1" fill="none" stroke="#000" stroke-width="1.3" stroke-linejoin="round" stroke-linecap="butt"/>
<polyline points="79.2,490.6 86.0,486.0 92.5,484.0 98.5,486.0 104.0,491.0 108.5,496.0 112.0,499.1" fill="none" stroke="#000" stroke-width="1.3" stroke-linejoin="round" stroke-linecap="butt"/>
<line x1="111.50" y1="499.10" x2="231.75" y2="499.10" stroke="#000" stroke-width="1.3"/>
<text x="156.60" y="391.70" font-size="11.4" text-anchor="middle" >130 µCi RAIT</text>
<text x="130.40" y="434.50" font-size="11.4" text-anchor="middle" >5/10</text>
<text x="130.60" y="448.10" font-size="11.4" text-anchor="middle" >Tumor free</text>
<text x="158.00" y="548.30" font-size="11.4" text-anchor="middle" >Weeks</text>
<line x1="314.50" y1="400.80" x2="314.50" y2="500.15" stroke="#000" stroke-width="1.1"/>
<line x1="311.00" y1="499.60" x2="314.50" y2="499.60" stroke="#000" stroke-width="1.1"/>
<text x="306.30" y="504.10" font-size="11.4" text-anchor="end" >0</text>
<line x1="312.50" y1="483.23" x2="314.50" y2="483.23" stroke="#000" stroke-width="1.1"/>
<line x1="311.00" y1="466.85" x2="314.50" y2="466.85" stroke="#000" stroke-width="1.1"/>
<text x="306.30" y="476.10" font-size="11.4" text-anchor="end" >1</text>
<line x1="312.50" y1="450.48" x2="314.50" y2="450.48" stroke="#000" stroke-width="1.1"/>
<line x1="311.00" y1="434.10" x2="314.50" y2="434.10" stroke="#000" stroke-width="1.1"/>
<text x="306.30" y="440.50" font-size="11.4" text-anchor="end" >2</text>
<line x1="312.50" y1="417.73" x2="314.50" y2="417.73" stroke="#000" stroke-width="1.1"/>
<line x1="311.00" y1="401.35" x2="314.50" y2="401.35" stroke="#000" stroke-width="1.1"/>
<text x="306.30" y="404.60" font-size="11.4" text-anchor="end" >3</text>
<line x1="324.95" y1="511.10" x2="478.95" y2="511.10" stroke="#000" stroke-width="1.1"/>
<line x1="325.50" y1="511.10" x2="325.50" y2="515.00" stroke="#000" stroke-width="1.1"/>
<text x="325.50" y="527.30" font-size="11.4" text-anchor="middle" >0</text>
<line x1="339.40" y1="511.10" x2="339.40" y2="513.30" stroke="#000" stroke-width="1.1"/>
<line x1="353.30" y1="511.10" x2="353.30" y2="515.00" stroke="#000" stroke-width="1.1"/>
<text x="353.30" y="527.30" font-size="11.4" text-anchor="middle" >4</text>
<line x1="367.20" y1="511.10" x2="367.20" y2="513.30" stroke="#000" stroke-width="1.1"/>
<line x1="381.10" y1="511.10" x2="381.10" y2="515.00" stroke="#000" stroke-width="1.1"/>
<text x="381.10" y="527.30" font-size="11.4" text-anchor="middle" >8</text>
<line x1="395.00" y1="511.10" x2="395.00" y2="513.30" stroke="#000" stroke-width="1.1"/>
<line x1="408.90" y1="511.10" x2="408.90" y2="515.00" stroke="#000" stroke-width="1.1"/>
<text x="408.90" y="527.30" font-size="11.4" text-anchor="middle" >12</text>
<line x1="422.80" y1="511.10" x2="422.80" y2="513.30" stroke="#000" stroke-width="1.1"/>
<line x1="436.70" y1="511.10" x2="436.70" y2="515.00" stroke="#000" stroke-width="1.1"/>
<text x="436.70" y="527.30" font-size="11.4" text-anchor="middle" >16</text>
<line x1="450.60" y1="511.10" x2="450.60" y2="513.30" stroke="#000" stroke-width="1.1"/>
<line x1="464.50" y1="511.10" x2="464.50" y2="515.00" stroke="#000" stroke-width="1.1"/>
<text x="464.50" y="527.30" font-size="11.4" text-anchor="middle" >20</text>
<line x1="478.40" y1="511.10" x2="478.40" y2="513.30" stroke="#000" stroke-width="1.1"/>
<polyline points="325.3,488.1 330.5,485.5 335.8,483.8 340.0,485.9 345.0,490.8 348.6,497.0 350.6,499.5" fill="none" stroke="#000" stroke-width="1.15" stroke-linejoin="round" stroke-linecap="butt"/>
<polyline points="325.3,488.5 330.5,486.0 335.9,484.2 340.0,486.4 345.0,491.2 348.9,497.0 350.9,499.5" fill="none" stroke="#000" stroke-width="1.15" stroke-linejoin="round" stroke-linecap="butt"/>
<polyline points="325.3,488.9 330.5,486.4 336.0,484.6 340.0,486.8 345.0,491.6 349.1,497.0 351.1,499.5" fill="none" stroke="#000" stroke-width="1.15" stroke-linejoin="round" stroke-linecap="butt"/>
<polyline points="325.3,489.4 330.5,486.9 336.2,485.0 340.0,487.2 345.0,492.0 349.4,497.0 351.4,499.5" fill="none" stroke="#000" stroke-width="1.15" stroke-linejoin="round" stroke-linecap="butt"/>
<polyline points="325.3,489.8 330.5,487.4 336.3,485.4 340.0,487.6 345.0,492.4 349.6,497.0 351.6,499.5" fill="none" stroke="#000" stroke-width="1.15" stroke-linejoin="round" stroke-linecap="butt"/>
<polyline points="325.3,490.2 330.5,487.9 336.4,485.9 340.0,488.1 345.0,492.9 351.4,497.0 353.4,499.5" fill="none" stroke="#000" stroke-width="1.15" stroke-linejoin="round" stroke-linecap="butt"/>
<polyline points="325.3,490.6 330.5,488.3 336.5,486.3 340.0,488.5 345.0,493.3 351.9,497.0 353.9,499.5" fill="none" stroke="#000" stroke-width="1.15" stroke-linejoin="round" stroke-linecap="butt"/>
<polyline points="325.3,491.0 330.5,488.8 336.6,486.7 340.0,488.9 345.0,493.7 352.4,497.0 354.4,499.5" fill="none" stroke="#000" stroke-width="1.15" stroke-linejoin="round" stroke-linecap="butt"/>
<polyline points="325.3,489.0 331.0,485.0 335.6,483.8 339.4,480.2 346.2,483.5 355.0,499.5" fill="none" stroke="#000" stroke-width="1.15" stroke-linejoin="round" stroke-linecap="butt"/>
<polyline points="325.3,490.5 331.0,487.5 336.5,486.5 341.0,489.0 346.0,494.0 350.0,498.0 352.0,499.5" fill="none" stroke="#000" stroke-width="1.15" stroke-linejoin="round" stroke-linecap="butt"/>
<polyline points="464.6,499.5 469.2,495.0" fill="none" stroke="#000" stroke-width="1.15" stroke-linejoin="round" stroke-linecap="butt"/>
<line x1="350.60" y1="499.50" x2="469.20" y2="499.50" stroke="#000" stroke-width="1.15"/>
<text x="396.90" y="404.50" font-size="11.4" text-anchor="middle" >130 µCi RAIT + ADC</text>
<text x="445.60" y="470.70" font-size="11.4" text-anchor="middle" >9/10</text>
<text x="446.50" y="484.30" font-size="11.4" text-anchor="middle" >Tumor free</text>
<text x="399.60" y="547.00" font-size="11.4" text-anchor="middle" >Weeks</text>
<line x1="135.60" y1="610.40" x2="135.60" y2="737.60" stroke="#000" stroke-width="1.2"/>
<line x1="133.80" y1="610.90" x2="135.60" y2="610.90" stroke="#000" stroke-width="1.2"/>
<line x1="131.60" y1="737.00" x2="135.60" y2="737.00" stroke="#000" stroke-width="1.2"/>
<text x="125.60" y="741.00" font-size="10.5" text-anchor="end" >0</text>
<line x1="133.60" y1="725.52" x2="135.60" y2="725.52" stroke="#000" stroke-width="1.2"/>
<line x1="131.60" y1="714.04" x2="135.60" y2="714.04" stroke="#000" stroke-width="1.2"/>
<text x="125.60" y="718.04" font-size="10.5" text-anchor="end" >20</text>
<line x1="133.60" y1="702.56" x2="135.60" y2="702.56" stroke="#000" stroke-width="1.2"/>
<line x1="131.60" y1="691.08" x2="135.60" y2="691.08" stroke="#000" stroke-width="1.2"/>
<text x="125.60" y="695.08" font-size="10.5" text-anchor="end" >40</text>
<line x1="133.60" y1="679.60" x2="135.60" y2="679.60" stroke="#000" stroke-width="1.2"/>
<line x1="131.60" y1="668.12" x2="135.60" y2="668.12" stroke="#000" stroke-width="1.2"/>
<text x="125.60" y="672.12" font-size="10.5" text-anchor="end" >60</text>
<line x1="133.60" y1="656.64" x2="135.60" y2="656.64" stroke="#000" stroke-width="1.2"/>
<line x1="131.60" y1="645.16" x2="135.60" y2="645.16" stroke="#000" stroke-width="1.2"/>
<text x="125.60" y="649.16" font-size="10.5" text-anchor="end" >80</text>
<line x1="133.60" y1="633.68" x2="135.60" y2="633.68" stroke="#000" stroke-width="1.2"/>
<line x1="131.60" y1="622.20" x2="135.60" y2="622.20" stroke="#000" stroke-width="1.2"/>
<text x="125.60" y="626.20" font-size="10.5" text-anchor="end" >100</text>
<line x1="135.00" y1="737.00" x2="325.60" y2="737.00" stroke="#000" stroke-width="1.2"/>
<line x1="135.60" y1="737.00" x2="135.60" y2="740.00" stroke="#000" stroke-width="1.2"/>
<text x="135.60" y="754.70" font-size="10.6" text-anchor="middle" >0</text>
<line x1="151.40" y1="737.00" x2="151.40" y2="739.40" stroke="#000" stroke-width="1.2"/>
<line x1="167.20" y1="737.00" x2="167.20" y2="740.00" stroke="#000" stroke-width="1.2"/>
<text x="167.20" y="754.70" font-size="10.6" text-anchor="middle" >4</text>
<line x1="183.00" y1="737.00" x2="183.00" y2="739.40" stroke="#000" stroke-width="1.2"/>
<line x1="198.80" y1="737.00" x2="198.80" y2="740.00" stroke="#000" stroke-width="1.2"/>
<text x="198.80" y="754.70" font-size="10.6" text-anchor="middle" >8</text>
<line x1="214.60" y1="737.00" x2="214.60" y2="739.40" stroke="#000" stroke-width="1.2"/>
<line x1="230.40" y1="737.00" x2="230.40" y2="740.00" stroke="#000" stroke-width="1.2"/>
<text x="230.40" y="754.70" font-size="10.6" text-anchor="middle" >12</text>
<line x1="246.20" y1="737.00" x2="246.20" y2="739.40" stroke="#000" stroke-width="1.2"/>
<line x1="262.00" y1="737.00" x2="262.00" y2="740.00" stroke="#000" stroke-width="1.2"/>
<text x="262.00" y="754.70" font-size="10.6" text-anchor="middle" >16</text>
<line x1="277.80" y1="737.00" x2="277.80" y2="739.40" stroke="#000" stroke-width="1.2"/>
<line x1="293.60" y1="737.00" x2="293.60" y2="740.00" stroke="#000" stroke-width="1.2"/>
<text x="293.60" y="754.70" font-size="10.6" text-anchor="middle" >20</text>
<line x1="309.40" y1="737.00" x2="309.40" y2="739.40" stroke="#000" stroke-width="1.2"/>
<line x1="325.20" y1="737.00" x2="325.20" y2="740.00" stroke="#000" stroke-width="1.2"/>
<text x="325.20" y="754.70" font-size="10.6" text-anchor="middle" >24</text>
<polyline points="135.6,622.2 298.5,622.2 298.5,619.8" fill="none" stroke="#000" stroke-width="1.2" stroke-linejoin="miter" stroke-linecap="butt"/>
<polyline points="156.2,622.2 156.2,634.6 159.3,634.6 159.3,647.2 163.8,647.2 163.8,672.5 169.5,672.5 169.5,698.3 175.7,698.3 175.7,723.8 180.1,723.8 180.1,737.0" fill="none" stroke="#000" stroke-width="1.2" stroke-linejoin="miter" stroke-linecap="butt"/>
<polyline points="183.6,622.2 183.6,633.2 201.9,633.2 201.9,644.6 210.0,644.6 210.0,679.2 215.3,679.2 215.3,702.0 222.4,702.0 222.4,713.8 298.2,713.8 298.2,707.7" fill="none" stroke="#000" stroke-width="1.2" stroke-linejoin="miter" stroke-linecap="butt"/>
<line x1="237.80" y1="713.80" x2="237.80" y2="711.20" stroke="#000" stroke-width="1.2"/>
<polyline points="193.8,622.2 193.8,633.2 215.3,633.2 215.3,644.6 230.0,644.6 230.0,655.9 238.2,655.9 238.2,682.4 246.2,682.4 246.2,710.0 298.2,710.0" fill="none" stroke="#000" stroke-width="1.2" stroke-linejoin="miter" stroke-linecap="butt"/>
<polyline points="254.0,622.2 254.0,633.2 262.0,633.2 262.0,645.0 298.5,645.0 298.5,642.6" fill="none" stroke="#000" stroke-width="1.2" stroke-linejoin="miter" stroke-linecap="butt"/>
<polyline points="269.6,622.2 269.6,656.3 294.3,656.3 294.3,668.2 298.5,668.2 298.5,665.8" fill="none" stroke="#000" stroke-width="1.2" stroke-linejoin="miter" stroke-linecap="butt"/>
<text x="185.20" y="720.80" font-size="11.4" text-anchor="start" >1</text>
<text x="220.60" y="699.20" font-size="11.4" text-anchor="start" >2</text>
<text x="242.60" y="679.20" font-size="11.4" text-anchor="start" >3</text>
<text x="305.60" y="626.00" font-size="11.4" text-anchor="start" >6</text>
<text x="305.60" y="649.20" font-size="11.4" text-anchor="start" >5</text>
<text x="305.60" y="671.60" font-size="11.4" text-anchor="start" >4</text>
<text x="150.80" y="575.50" font-size="11.4" text-anchor="middle" >ADC</text>
<text x="151.00" y="589.00" font-size="11.4" text-anchor="middle" >(0.5 mg/dose)</text>
<line x1="135.50" y1="597.20" x2="135.50" y2="604.80" stroke="#000" stroke-width="1.4"/>
<polygon points="135.50,608.50 133.20,604.30 137.80,604.30" fill="#000"/>
<line x1="139.83" y1="597.20" x2="139.83" y2="604.80" stroke="#000" stroke-width="1.4"/>
<polygon points="139.83,608.50 137.53,604.30 142.13,604.30" fill="#000"/>
<line x1="144.16" y1="597.20" x2="144.16" y2="604.80" stroke="#000" stroke-width="1.4"/>
<polygon points="144.16,608.50 141.86,604.30 146.46,604.30" fill="#000"/>
<line x1="148.49" y1="597.20" x2="148.49" y2="604.80" stroke="#000" stroke-width="1.4"/>
<polygon points="148.49,608.50 146.19,604.30 150.79,604.30" fill="#000"/>
<line x1="152.82" y1="597.20" x2="152.82" y2="604.80" stroke="#000" stroke-width="1.4"/>
<polygon points="152.82,608.50 150.52,604.30 155.12,604.30" fill="#000"/>
<line x1="157.15" y1="597.20" x2="157.15" y2="604.80" stroke="#000" stroke-width="1.4"/>
<polygon points="157.15,608.50 154.85,604.30 159.45,604.30" fill="#000"/>
<line x1="161.48" y1="597.20" x2="161.48" y2="604.80" stroke="#000" stroke-width="1.4"/>
<polygon points="161.48,608.50 159.18,604.30 163.78,604.30" fill="#000"/>
<line x1="165.81" y1="597.20" x2="165.81" y2="604.80" stroke="#000" stroke-width="1.4"/>
<polygon points="165.81,608.50 163.51,604.30 168.11,604.30" fill="#000"/>
<line x1="135.60" y1="760.10" x2="135.60" y2="767.20" stroke="#000" stroke-width="1.2"/>
<polygon points="135.60,756.80 133.70,760.60 137.50,760.60" fill="#000"/>
<text x="139.00" y="781.70" font-size="11.4" text-anchor="middle" >RAIT</text>
<text x="230.30" y="773.80" font-size="11.4" text-anchor="middle" >Weeks</text>
<text transform="translate(98,705.7) rotate(-90)" font-size="10.9">TTP (0.3 cm<tspan font-size="7.4" dy="-3.8">3</tspan><tspan dy="3.8">)</tspan></text>
<text x="342.20" y="631.20" font-size="11.4" text-anchor="start" >1</text>
<text x="355.40" y="631.20" font-size="11.4" text-anchor="start" style="word-spacing:0px">Untreated</text>
<text x="342.20" y="647.60" font-size="11.4" text-anchor="start" >2</text>
<text x="355.40" y="647.60" font-size="11.4" text-anchor="start" style="word-spacing:0px">ADC alone</text>
<text x="343.60" y="664.60" font-size="11.4" text-anchor="start" >3</text>
<text x="357.60" y="664.60" font-size="11.4" text-anchor="start" style="word-spacing:0.35px">75 µCi RAIT alone</text>
<text x="343.60" y="681.30" font-size="11.4" text-anchor="start" >4</text>
<text x="357.60" y="681.30" font-size="11.4" text-anchor="start" style="word-spacing:0.55px">75 µCi RAIT+ ADC</text>
<text x="343.60" y="699.90" font-size="11.4" text-anchor="start" >5</text>
<text x="357.60" y="699.90" font-size="11.4" text-anchor="start" style="word-spacing:0.35px">130 µCi RAIT alone</text>
<text x="343.60" y="717.20" font-size="11.4" text-anchor="start" >6</text>
<text x="357.60" y="717.20" font-size="11.4" text-anchor="start" style="word-spacing:0.55px">130 µCi RAIT + ADC</text>
<text x="402.90" y="751.30" font-size="11.4" text-anchor="middle" >4 vs. 3</text>
<text x="402.9" y="765.5" font-size="11.4" text-anchor="middle"><tspan font-style="italic">P</tspan> = 0.0047</text>
</svg>
</body></html>
